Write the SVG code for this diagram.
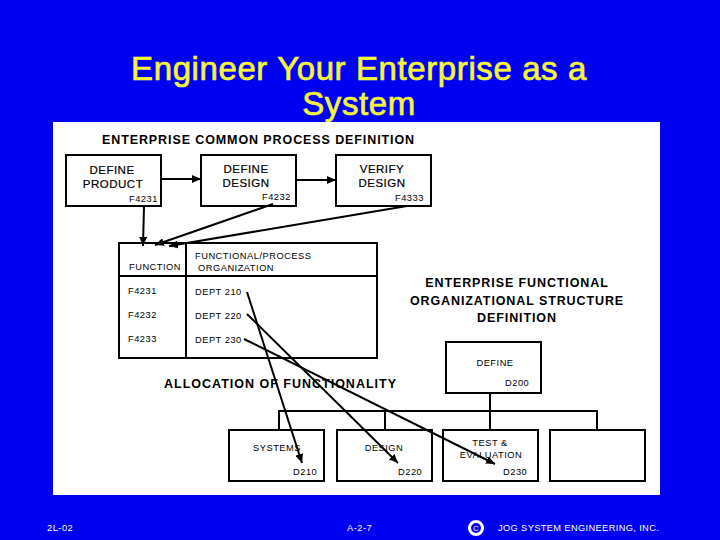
<svg xmlns="http://www.w3.org/2000/svg" width="720" height="540" viewBox="0 0 720 540">
<style>
text{font-family:"Liberation Sans",Arial,sans-serif;fill:#000}
.box{fill:#fff;stroke:#000;stroke-width:2}
.ln{fill:none;stroke:#000;stroke-width:2}
.ar{fill:none;stroke:#000;stroke-width:2;marker-end:url(#ah)}
.t{font-size:33px;text-anchor:middle;letter-spacing:.6px;fill:#f5f53c;stroke:#f5f53c;stroke-width:.7}
.h{font-size:12.5px;font-weight:bold;text-anchor:middle;letter-spacing:.9px}
.b{font-size:11.5px;text-anchor:middle;letter-spacing:.5px;stroke:#000;stroke-width:.2}
.s{font-size:9.3px;letter-spacing:.5px}
.m{font-size:9.3px;letter-spacing:.5px;text-anchor:middle}
.w{fill:#fff}
</style>
<defs><marker id="ah" markerUnits="userSpaceOnUse" markerWidth="10" markerHeight="8" refX="9" refY="4" orient="auto"><path d="M0 0L9 4L0 8z" fill="#000"/></marker></defs>
<rect width="720" height="540" fill="#0000f0"/>
<rect x="53" y="122" width="607" height="373" fill="#fff"/>
<g id="title"><text class="t" x="359" y="80">Engineer Your Enterprise as a</text><text class="t" x="359" y="115">System</text></g>
<g id="labels">
<text class="h" x="258.500" y="144">ENTERPRISE COMMON PROCESS DEFINITION</text>
<text class="h" x="280.500" y="388" style="letter-spacing:1px">ALLOCATION OF FUNCTIONALITY</text>
<text class="h" x="517" y="287">ENTERPRISE FUNCTIONAL</text>
<text class="h" x="517" y="305">ORGANIZATIONAL STRUCTURE</text>
<text class="h" x="517" y="322">DEFINITION</text>
</g>
<g id="define-product"><rect class="box" x="66" y="155" width="95" height="51"/><text class="b" x="112" y="174">DEFINE</text><text class="b" x="113" y="188">PRODUCT</text><text class="s" x="129" y="202">F4231</text></g>
<g id="define-design"><rect class="box" x="201" y="155" width="95" height="51"/><text class="b" x="246" y="173">DEFINE</text><text class="b" x="246" y="187">DESIGN</text><text class="s" x="262" y="200">F4232</text></g>
<g id="verify-design"><rect class="box" x="336" y="155" width="95" height="51"/><text class="b" x="382" y="173">VERIFY</text><text class="b" x="382" y="187">DESIGN</text><text class="s" x="395" y="201">F4333</text></g>
<g id="table"><rect class="box" x="119" y="243" width="258" height="115"/><path class="ln" d="M186 243V358M119 276H377"/>
<text class="s" x="129" y="270">FUNCTION</text><text class="s" x="195" y="259">FUNCTIONAL/PROCESS</text><text class="s" x="198" y="271">ORGANIZATION</text>
<text class="s" x="128" y="294">F4231</text><text class="s" x="128" y="318">F4232</text><text class="s" x="128" y="342">F4233</text>
<text class="s" x="195" y="295">DEPT 210</text><text class="s" x="195" y="319">DEPT 220</text><text class="s" x="195" y="343">DEPT 230</text></g>
<g id="define"><rect class="box" x="446" y="342" width="95" height="51"/><text class="m" x="495" y="366">DEFINE</text><text class="s" x="505" y="386">D200</text></g>
<g id="systems"><rect class="box" x="229" y="430" width="95" height="51"/><text class="m" x="277" y="451">SYSTEMS</text><text class="s" x="293" y="475">D210</text></g>
<g id="design"><rect class="box" x="337" y="430" width="95" height="51"/><text class="m" x="384" y="451">DESIGN</text><text class="s" x="398" y="475">D220</text></g>
<g id="test"><rect class="box" x="443" y="430" width="95" height="51"/><text class="m" x="490" y="446">TEST &amp;</text><text class="m" x="491" y="458">EVALUATION</text><text class="s" x="503" y="475">D230</text></g>
<g id="blank"><rect class="box" x="550" y="430" width="95" height="51"/></g>
<g id="connectors">
<path class="ln" d="M490 393V430M279 430V411H597V430M385 411V430"/>
<path class="ar" d="M161 179H201"/><path class="ar" d="M296 180H336"/>
<path class="ar" d="M144 206L143 246"/><path class="ar" d="M273 204L155 245"/><path class="ar" d="M407 206L169 246"/>
<path class="ar" d="M247 292L302 463"/><path class="ar" d="M247 314L398 463"/><path class="ar" d="M244 339L495 464"/>
</g>
<g id="footer">
<text class="s w" x="47" y="531">2L-02</text><text class="s w" x="347" y="531">A-2-7</text>
<circle cx="476" cy="528" r="6.500" fill="#0000f0" stroke="#fff" stroke-width="3"/><text class="w" x="476" y="531" font-size="8" text-anchor="middle">C</text>
<text class="s w" x="498" y="531" style="letter-spacing:.35px">JOG SYSTEM ENGINEERING, INC.</text>
</g>
</svg>
